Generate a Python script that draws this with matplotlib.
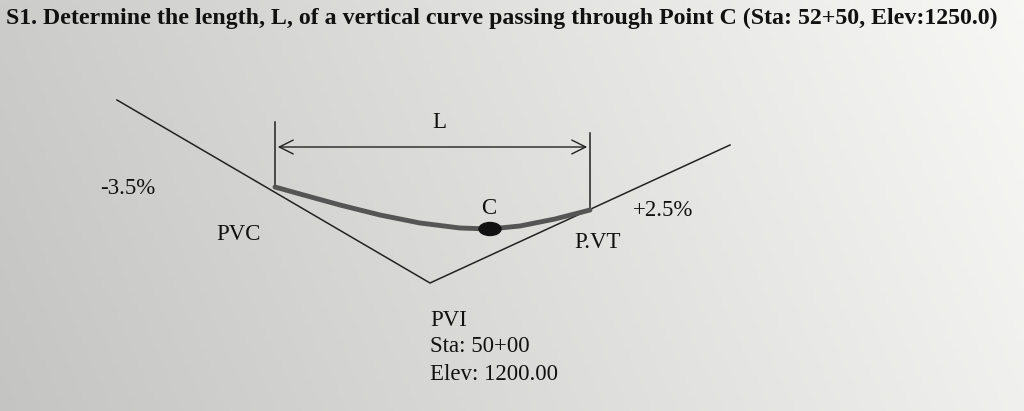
import matplotlib.pyplot as plt
import numpy as np
from matplotlib.patches import Ellipse

plt.rcParams['font.family'] = ['Liberation Serif', 'DejaVu Serif']

# geometry (pixel coords)
tangent_x = [117, 430, 730]
tangent_y = [100, 283, 145]
curve_x = [275, 300, 340, 380, 420, 460, 490, 520, 555, 590]
curve_y = [187, 194, 205, 215, 223, 228, 229, 226, 219, 210]
pvc = (275, 187)
pvt = (590, 210)
point_c = (490, 229)

fig = plt.figure(figsize=(10.24, 4.11), dpi=100)
ax = fig.add_axes([0, 0, 1, 1])
ax.set_xlim(0, 1024)
ax.set_ylim(411, 0)
ax.axis('off')

# paper background, darker on the left, lighter to the right
xx, yy = np.meshgrid(np.linspace(0, 1, 200), np.linspace(0, 1, 80))
shade = 0.80 + 0.17 * xx - 0.03 * yy
ax.imshow(np.dstack([shade, shade, shade * 0.99]), extent=[0, 1024, 411, 0],
          aspect='auto', zorder=0)

ax.text(6, 18, 'S1. Determine the length, L, of a vertical curve passing through Point C (Sta: 52+50, Elev:1250.0)',
        fontsize=17.2, fontweight='bold', va='center', ha='left', color='#111111')

ax.plot(tangent_x, tangent_y, color='#222222', lw=1.1, zorder=2)
ax.plot(curve_x, curve_y, color='#555555', lw=3.5, solid_capstyle='round', zorder=3)
ax.add_patch(Ellipse(point_c, 22, 13, color='#111111', zorder=4))

# vertical extension lines and dimension arrow
ax.plot([pvc[0], pvc[0]], [122, pvc[1]], color='#222222', lw=1.1)
ax.plot([pvt[0], pvt[0]], [133, pvt[1]], color='#222222', lw=1.1)
ax.annotate('', xy=(pvc[0], 147), xytext=(pvt[0], 147),
            arrowprops=dict(arrowstyle='<->', color='#222222', lw=1.0, mutation_scale=25))

labels = [
    (432, 122, 'L'), (100, 188, '-3.5%'), (216, 234, 'PVC'), (481, 208, 'C'),
    (633, 210, '+2.5%'), (574, 242, 'P.VT'), (430, 320, 'PVI'),
    (430, 346, 'Sta: 50+00'), (430, 374, 'Elev: 1200.00'),
]
for x, y, s in labels:
    ax.text(x, y, s, fontsize=16.5, va='center', ha='left', color='#111111')

fig.savefig('out.png', dpi=100)
